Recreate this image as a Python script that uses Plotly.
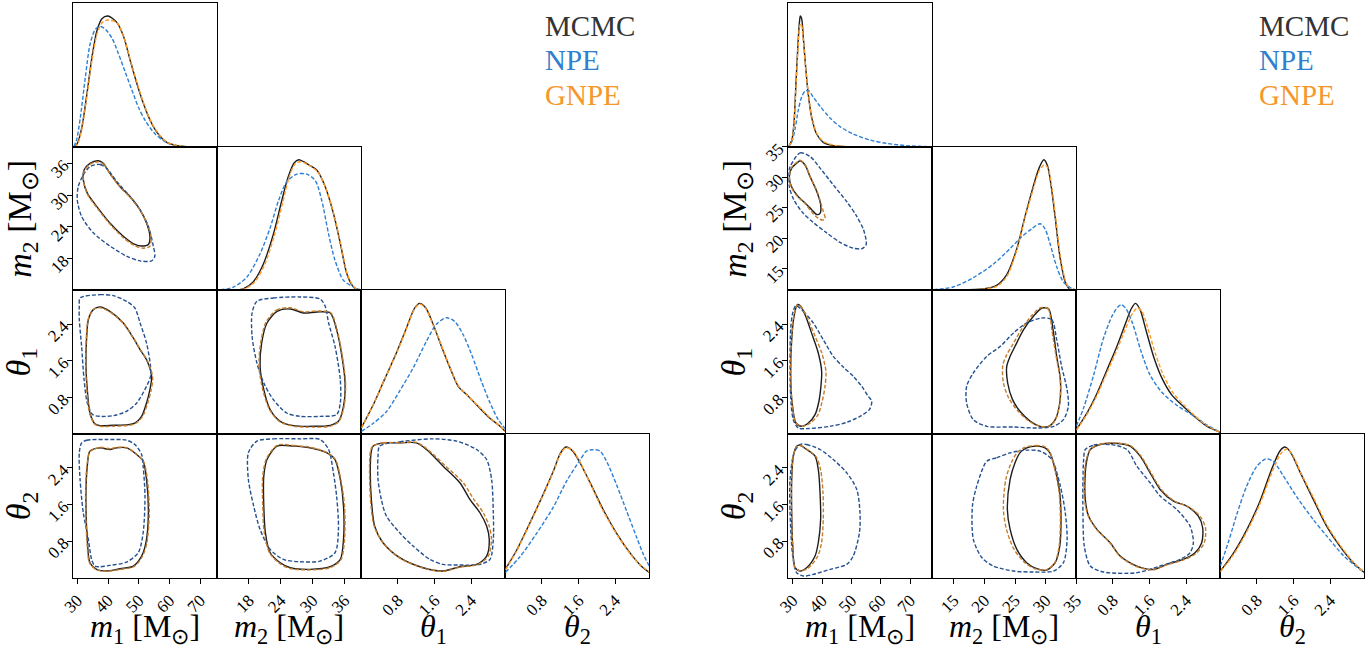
import plotly.graph_objects as go

W, H = 1368, 653

# ---------------- data ----------------
# masses in solar masses, angles in rad; densities scaled so that MCMC peak = 1

L_M1_RANGE = [28.7, 75.5]
L_M2_RANGE = [12.05, 39.15]
R_M1_RANGE = [28.5, 77.5]
R_M2_RANGE = [11.5, 35.0]
TH_RANGE = [0, 3.1416]

L_M1_TICKS = [30, 40, 50, 60, 70]
L_M2_TICKS = [18, 24, 30, 36]
R_M1_TICKS = [30, 40, 50, 60, 70]
R_M2_TICKS = [15, 20, 25, 30, 35]
TH_TICKS = [0.8, 1.6, 2.4]

# ---- left corner: 1D marginals ----
L_M1_MCMC = [(29.0, 0), (29.9, .02), (31.5, .15), (33.1, .40), (34.8, .69), (36.4, .89), (38.0, .98), (40.0, 1.0),
             (42.9, .95), (45.1, .84), (47.2, .66), (49.4, .48), (51.5, .33), (53.7, .20), (55.9, .11), (59.1, .033),
             (62.4, .008), (65.6, 0), (75.5, 0)]
L_M1_NPE = [(28.8, 0), (29.7, .046), (31.0, .225), (32.6, .53), (34.2, .79), (35.9, .90), (37.5, .92), (39.1, .90),
            (41.3, .83), (43.4, .71), (45.6, .57), (47.8, .43), (49.9, .30), (52.1, .20), (54.8, .11), (58.0, .046),
            (61.3, .013), (65.6, 0), (75.5, 0)]
L_M1_GNPE = [(29.2, 0), (30.1, .02), (31.6, .15), (33.2, .40), (34.9, .68), (36.5, .87), (38.1, .95), (40.0, .97),
             (42.9, .95), (45.1, .84), (47.2, .665), (49.4, .49), (51.5, .335), (53.7, .205), (55.9, .115),
             (59.1, .035), (62.4, .01), (65.6, 0), (75.5, 0)]

L_M2_MCMC = [(12.05, 0), (15.1, 0), (17.0, .013), (18.8, .064), (20.7, .20), (22.6, .43), (24.2, .69), (25.4, .87),
             (26.5, .975), (27.4, 1.0), (28.3, .985), (29.3, .96), (30.8, .92), (32.4, .79), (33.9, .59), (35.2, .36),
             (36.4, .13), (37.4, .04), (38.3, .005), (39.15, 0)]
L_M2_NPE = [(12.6, .003), (15.1, .025), (17.6, .10), (20.1, .28), (22.0, .48), (23.6, .69), (25.1, .83), (27.0, .89),
            (28.9, .89), (30.5, .84), (31.7, .69), (33.0, .43), (34.2, .23), (35.8, .076), (37.7, .025), (38.9, .005)]
L_M2_GNPE = [(12.05, 0), (15.3, 0), (17.2, .012), (19.0, .06), (20.9, .19), (22.8, .42), (24.4, .68), (25.6, .87),
             (26.7, .97), (27.6, .985), (28.5, .975), (29.4, .955), (30.9, .91), (32.5, .78), (34.0, .58),
             (35.3, .35), (36.5, .125), (37.5, .04), (38.4, .005), (39.15, 0)]

L_T1_MCMC = [(0, .046), (.255, .22), (.51, .42), (.765, .62), (.984, .81), (1.166, .965), (1.276, 1.0), (1.407, .965),
             (1.567, .84), (1.749, .67), (1.931, .51), (2.114, .365), (2.332, .29), (2.551, .21), (2.806, .12),
             (3.025, .06), (3.14, .02)]
L_T1_NPE = [(0, .02), (.255, .08), (.547, .17), (.838, .33), (1.13, .505), (1.421, .71), (1.64, .84), (1.859, .89),
            (2.041, .86), (2.223, .76), (2.405, .61), (2.624, .40), (2.806, .24), (2.988, .11), (3.14, .04)]
L_T1_GNPE = [(0, .045), (.255, .22), (.51, .42), (.765, .615), (.984, .805), (1.166, .96), (1.276, .995),
             (1.407, .96), (1.567, .835), (1.749, .675), (1.931, .515), (2.114, .37), (2.332, .29), (2.551, .215),
             (2.806, .125), (3.025, .06), (3.14, .02)]

L_T2_MCMC = [(0, .064), (.247, .21), (.538, .42), (.829, .64), (1.047, .815), (1.207, .955), (1.323, 1.0),
             (1.469, .97), (1.629, .88), (1.847, .73), (2.138, .52), (2.429, .34), (2.72, .19), (2.938, .10),
             (3.14, .04)]
L_T2_NPE = [(0, .04), (.32, .16), (.684, .34), (1.047, .54), (1.338, .74), (1.629, .90), (1.774, .97), (1.905, .98),
            (2.065, .97), (2.211, .89), (2.429, .71), (2.647, .51), (2.865, .31), (3.011, .18), (3.14, .09)]
L_T2_GNPE = [(0, .06), (.247, .205), (.538, .415), (.829, .635), (1.047, .81), (1.207, .95), (1.323, .995),
             (1.469, .975), (1.629, .885), (1.847, .725), (2.138, .51), (2.429, .335), (2.72, .185), (2.938, .10),
             (3.14, .045)]

# ---- left corner: contours (closed loops) ----
L_M1M2_MCMC = [(36.8, 36.5), (38.45, 36.0), (40.6, 34.1), (43.9, 31.6), (47.1, 29.75), (50.4, 27.25), (52.5, 24.75),
               (53.6, 22.25), (53.1, 20.7), (50.9, 20.4), (48.7, 20.7), (44.95, 22.25), (40.6, 24.75), (36.3, 27.9),
               (33.25, 30.4), (31.95, 32.9), (32.2, 34.75), (34.1, 36.0)]
L_M1M2_NPE = [(34.1, 35.4), (37.4, 35.8), (39.5, 35.1), (42.8, 32.6), (47.1, 29.75), (50.4, 27.25), (53.1, 24.1),
              (54.7, 20.4), (55.2, 18.5), (54.15, 17.6), (50.4, 17.6), (46.0, 18.5), (40.6, 20.4), (35.2, 22.9),
              (31.4, 26.0), (30.0, 29.1), (30.3, 31.6), (31.95, 33.8)]
L_M1M2_GNPE = [(37.0, 36.3), (38.7, 35.8), (40.8, 33.9), (44.1, 31.4), (47.3, 29.5), (50.6, 27.0), (52.8, 24.5),
               (54.0, 22.0), (53.5, 20.3), (51.2, 20.0), (48.9, 20.4), (45.1, 21.9), (40.7, 24.5), (36.4, 27.6),
               (33.3, 30.2), (32.0, 32.8), (32.3, 34.7), (34.3, 35.9)]

L_M1T1_MCMC = [(37.4, 2.777), (40.6, 2.682), (44.95, 2.427), (48.2, 2.099), (50.4, 1.844), (52.5, 1.625),
               (54.15, 1.261), (53.6, .969), (52.5, .678), (50.9, .386), (48.7, .24), (46.6, .204), (41.7, .19),
               (37.4, .182), (35.7, .226), (34.1, .459), (33.25, .969), (32.8, 1.553), (33.0, 2.063), (33.6, 2.5),
               (35.2, 2.719)]
L_M1T1_NPE = [(30.9, 2.974), (37.4, 3.047), (41.7, 3.025), (46.0, 2.901), (48.7, 2.755), (50.4, 2.427), (52.5, 1.99),
              (53.8, 1.48), (53.8, 1.261), (52.5, 1.042), (49.3, .678), (46.0, .496), (41.7, .401), (37.4, .386),
              (35.0, .423), (33.25, .678), (32.2, 1.188), (31.4, 1.917), (30.65, 2.5), (30.65, 2.792)]
L_M1T1_GNPE = [(37.5, 2.76), (40.8, 2.66), (45.1, 2.41), (48.4, 2.08), (50.7, 1.82), (52.8, 1.60), (54.5, 1.25),
               (54.0, .96), (52.8, .66), (51.1, .37), (48.9, .23), (46.7, .19), (41.8, .17), (37.5, .17), (35.6, .22),
               (34.0, .46), (33.1, .97), (32.7, 1.55), (32.9, 2.07), (33.5, 2.50), (35.2, 2.72)]

L_M1T2_MCMC = [(34.1, 2.767), (37.4, 2.839), (40.6, 2.803), (42.8, 2.839), (46.0, 2.839), (49.3, 2.694),
               (51.4, 2.548), (52.5, 2.148), (53.1, 1.42), (52.3, .764), (50.9, .473), (48.2, .255), (43.9, .197),
               (39.5, .146), (36.3, .182), (34.1, .328), (33.25, .837), (32.8, 1.784), (33.25, 2.439)]
L_M1T2_NPE = [(31.4, 2.948), (33.0, 3.006), (39.5, 3.021), (46.0, 3.006), (48.7, 2.912), (50.9, 2.694),
              (51.4, 2.439), (52.0, 1.784), (51.4, .983), (49.8, .546), (46.0, .342), (40.6, .269), (37.4, .24),
              (35.7, .255), (34.65, .40), (33.6, .837), (31.95, 1.42), (30.9, 2.148), (30.65, 2.73)]
L_M1T2_GNPE = [(34.2, 2.76), (37.5, 2.85), (40.6, 2.82), (42.9, 2.85), (46.2, 2.84), (49.5, 2.69), (51.6, 2.53),
               (52.8, 2.14), (53.4, 1.42), (52.6, .76), (51.1, .46), (48.4, .24), (44.0, .18), (39.6, .14),
               (36.3, .17), (34.0, .32), (33.1, .84), (32.7, 1.78), (33.1, 2.44)]

L_M2T1_MCMC = [(21.4, 2.427), (23.3, 2.682), (25.8, 2.733), (28.3, 2.646), (30.8, 2.668), (33.3, 2.646),
               (34.5, 2.281), (35.5, 1.698), (36.1, 1.115), (35.8, .605), (34.85, .277), (33.3, .19), (30.2, .168),
               (26.4, .182), (23.9, .277), (22.0, .532), (20.8, .969), (20.1, 1.48), (20.4, 1.99)]
L_M2T1_NPE = [(19.5, 2.901), (22.6, 2.974), (27.6, 2.996), (31.4, 2.952), (32.35, 2.792), (33.0, 2.427),
              (34.2, 1.917), (35.2, 1.188), (35.2, .678), (34.5, .423), (31.4, .386), (27.6, .386), (25.1, .459),
              (22.6, .751), (20.8, 1.115), (19.5, 1.553), (18.6, 2.136), (18.6, 2.646)]
L_M2T1_GNPE = [(21.2, 2.44), (23.2, 2.71), (25.8, 2.76), (28.3, 2.67), (30.9, 2.69), (33.4, 2.65), (34.6, 2.27),
               (35.6, 1.69), (36.2, 1.11), (35.9, .60), (34.9, .27), (33.3, .17), (30.2, .15), (26.4, .17),
               (23.8, .27), (21.9, .53), (20.6, .97), (19.9, 1.48), (20.2, 1.99)]

L_M2T2_MCMC = [(23.3, 2.876), (26.4, 2.876), (29.5, 2.839), (32.7, 2.73), (34.2, 2.584), (35.2, 2.148),
               (35.8, 1.565), (35.8, .837), (35.2, .40), (33.3, .24), (29.5, .182), (25.8, .218), (23.9, .328),
               (22.0, .546), (21.1, .983), (20.8, 1.565), (20.8, 2.22), (21.4, 2.584)]
L_M2T2_NPE = [(19.5, 2.985), (22.6, 3.036), (27.6, 3.036), (31.4, 3.021), (33.0, 2.803), (33.9, 2.293),
              (34.5, 1.784), (34.85, 1.056), (34.2, .546), (31.4, .364), (27.6, .349), (24.5, .40), (22.0, .619),
              (20.1, 1.056), (18.9, 1.565), (17.9, 2.148), (17.9, 2.73)]
L_M2T2_GNPE = [(23.4, 2.90), (26.4, 2.89), (29.6, 2.85), (32.8, 2.73), (34.3, 2.58), (35.3, 2.14), (36.0, 1.56),
               (36.0, .83), (35.3, .39), (33.3, .22), (29.5, .17), (25.8, .20), (23.8, .31), (21.9, .54),
               (20.9, .98), (20.6, 1.57), (20.6, 2.22), (21.3, 2.60)]

L_T1T2_MCMC = [(.255, 2.876), (.474, 2.948), (.838, 2.948), (1.203, 2.948), (1.422, 2.803), (1.786, 2.439),
               (2.151, 2.075), (2.369, 1.711), (2.588, 1.42), (2.734, 1.128), (2.792, .837), (2.734, .473),
               (2.515, .291), (2.151, .24), (1.786, .146), (1.349, .218), (.838, .437), (.474, .764), (.292, 1.128),
               (.219, 1.711), (.197, 2.439), (.219, 2.767)]
L_T1T2_NPE = [(.401, 2.876), (.838, 2.97), (1.567, 3.036), (2.078, 2.985), (2.515, 2.803), (2.734, 2.584),
              (2.843, 2.148), (2.88, 1.42), (2.88, .837), (2.807, .40), (2.588, .291), (2.151, .277), (1.786, .291),
              (1.494, .40), (1.13, .692), (.838, .983), (.547, 1.348), (.437, 1.711), (.365, 2.148), (.365, 2.657)]
L_T1T2_GNPE = [(.255, 2.88), (.474, 2.95), (.838, 2.95), (1.203, 2.96), (1.45, 2.80), (1.84, 2.44), (2.22, 2.08),
               (2.45, 1.72), (2.66, 1.42), (2.79, 1.13), (2.84, .84), (2.77, .47), (2.54, .29), (2.15, .23),
               (1.786, .14), (1.349, .21), (.838, .43), (.474, .76), (.28, 1.13), (.20, 1.71), (.18, 2.44),
               (.20, 2.77)]

# ---- right corner: 1D marginals ----
R_M1_MCMC = [(28.5, 0), (29.65, .046), (30.4, .17), (31.1, .48), (31.8, .79), (32.3, .955), (32.6, 1.0), (33.05, .98),
             (33.6, .84), (34.4, .61), (35.3, .40), (36.45, .225), (38.15, .097), (40.4, .033), (43.8, .008),
             (48.4, 0), (77.5, 0)]
R_M1_NPE = [(28.5, 0), (29.65, .033), (30.8, .136), (31.9, .28), (33.05, .38), (34.2, .425), (35.3, .43), (37.0, .38),
            (39.3, .31), (42.7, .22), (46.1, .154), (50.6, .097), (56.3, .051), (62.0, .025), (68.8, .008),
            (76.7, 0)]
R_M1_GNPE = [(28.5, 0), (29.65, .04), (30.4, .16), (31.1, .45), (31.8, .75), (32.3, .915), (32.7, .94), (33.1, .925),
             (33.6, .82), (34.4, .61), (35.3, .41), (36.45, .235), (38.15, .105), (40.4, .04), (43.8, .012),
             (48.4, 0), (77.5, 0)]

R_M2_MCMC = [(11.7, 0), (14.9, .003), (19.8, .01), (22.0, .038), (23.65, .12), (25.3, .32), (26.6, .56), (28.0, .80),
             (28.95, .94), (29.7, 1.0), (30.3, .955), (30.8, .83), (31.55, .56), (32.35, .25), (33.2, .064),
             (34.0, .005), (35.0, 0)]
R_M2_NPE = [(11.7, .005), (14.9, .025), (18.2, .097), (21.45, .20), (24.2, .32), (26.1, .41), (27.7, .47), (29.1, .51),
            (29.9, .47), (30.7, .36), (31.8, .18), (32.9, .064), (34.3, .013), (35.0, .003)]
R_M2_GNPE = [(11.7, 0), (14.9, .003), (19.8, .008), (22.0, .03), (23.65, .105), (25.3, .31), (26.6, .55), (28.0, .78),
             (29.0, .92), (29.8, .96), (30.4, .935), (30.9, .82), (31.6, .57), (32.4, .26), (33.25, .07),
             (34.0, .006), (35.0, 0)]

R_T1_MCMC = [(0, .033), (.232, .16), (.45, .31), (.668, .49), (.885, .67), (1.067, .84), (1.197, .957), (1.292, 1.0),
             (1.393, .95), (1.524, .79), (1.698, .58), (1.865, .43), (2.082, .30), (2.336, .21), (2.59, .13),
             (2.844, .06), (3.14, .013)]
R_T1_NPE = [(0, .06), (.16, .20), (.377, .45), (.595, .735), (.776, .90), (.90, .97), (.98, .99), (1.088, .957),
            (1.234, .84), (1.415, .63), (1.611, .45), (1.865, .32), (2.191, .22), (2.554, .14), (2.844, .07),
            (3.14, .015)]
R_T1_GNPE = [(0, .03), (.232, .15), (.45, .295), (.668, .47), (.885, .645), (1.067, .80), (1.22, .92), (1.33, .965),
             (1.43, .94), (1.56, .81), (1.73, .61), (1.90, .45), (2.10, .32), (2.35, .22), (2.60, .135),
             (2.844, .065), (3.14, .013)]

R_T2_MCMC = [(0, .05), (.284, .186), (.574, .364), (.865, .585), (1.12, .83), (1.301, .97), (1.41, 1.0), (1.534, .96),
             (1.738, .81), (2.028, .60), (2.319, .395), (2.61, .24), (2.901, .115), (3.14, .04)]
R_T2_NPE = [(0, .09), (.174, .27), (.356, .48), (.574, .70), (.792, .85), (.996, .91), (1.156, .89), (1.374, .78),
            (1.665, .62), (2.028, .445), (2.319, .32), (2.683, .17), (2.973, .084), (3.14, .046)]
R_T2_GNPE = [(0, .045), (.284, .175), (.574, .35), (.865, .565), (1.12, .80), (1.32, .95), (1.45, .985), (1.56, .95),
             (1.76, .80), (2.05, .60), (2.33, .40), (2.62, .245), (2.90, .12), (3.14, .04)]

# ---- right corner: contours ----
R_M1M2_MCMC = [(31.35, 32.3), (32.5, 32.7), (34.2, 32.0), (35.9, 30.1), (38.15, 27.7), (39.5, 25.5), (39.3, 24.1),
               (38.15, 23.9), (36.45, 24.7), (34.2, 25.8), (31.9, 26.8), (29.65, 28.4), (28.85, 30.1),
               (29.65, 31.5)]
R_M1M2_NPE = [(29.1, 31.7), (32.5, 34.0), (35.9, 33.4), (39.3, 31.5), (43.8, 28.75), (48.4, 26.0), (51.8, 23.6),
              (54.1, 21.4), (55.0, 19.0), (53.5, 18.3), (50.6, 18.4), (46.1, 19.35), (41.55, 20.9), (37.0, 22.6),
              (33.6, 24.1), (30.4, 26.3), (28.85, 28.4), (28.5, 30.6)]
R_M1M2_GNPE = [(31.3, 32.4), (32.5, 32.8), (34.3, 32.0), (36.0, 30.0), (38.4, 27.6), (39.8, 25.4), (40.4, 24.4),
               (41.0, 23.3), (40.2, 23.0), (38.6, 23.3), (37.0, 24.0), (34.2, 25.7), (31.9, 26.7), (29.6, 28.3),
               (28.8, 30.1), (29.6, 31.6)]

R_M1T1_MCMC = [(31.6, 2.828), (32.5, 2.806), (34.2, 2.61), (36.8, 2.136), (38.7, 1.771), (39.85, 1.37), (39.6, 1.042),
               (38.8, .678), (37.6, .423), (35.3, .24), (33.05, .168), (31.1, .24), (29.8, .678), (29.3, 1.334),
               (29.65, 2.063), (30.45, 2.573)]
R_M1T1_NPE = [(31.1, 2.806), (33.6, 2.682), (37.0, 2.427), (40.4, 2.063), (43.8, 1.698), (47.2, 1.465),
              (50.6, 1.261), (53.5, 1.042), (55.7, .824), (56.9, .714), (56.1, .532), (52.9, .386), (48.4, .255),
              (42.7, .168), (34.75, .117), (31.9, .131), (30.2, .313), (29.3, .824), (29.1, 1.553), (29.3, 2.282),
              (30.0, 2.646)]
R_M1T1_GNPE = [(31.6, 2.83), (32.6, 2.80), (34.5, 2.60), (37.6, 2.14), (39.9, 1.77), (41.3, 1.37), (41.0, 1.04),
               (39.9, .68), (38.6, .42), (36.0, .24), (33.3, .17), (31.2, .24), (29.8, .68), (29.3, 1.33),
               (29.6, 2.06), (30.4, 2.57)]

R_M1T2_MCMC = [(31.35, 2.876), (32.5, 2.897), (34.75, 2.803), (37.6, 2.657), (38.7, 2.366), (39.3, 1.856),
               (39.5, 1.274), (38.7, .764), (37.6, .473), (34.75, .218), (32.5, .146), (30.8, .218), (30.0, .692),
               (29.65, 1.42), (29.65, 2.148), (30.2, 2.657)]
R_M1T2_NPE = [(32.5, 2.912), (34.75, 2.912), (39.3, 2.803), (43.8, 2.584), (48.4, 2.293), (51.8, 1.929),
              (52.9, 1.42), (52.7, .983), (50.6, .473), (48.4, .291), (42.7, .182), (37.0, .073), (33.6, .036),
              (31.35, .109), (30.0, .473), (29.1, 1.42), (29.1, 2.148), (30.45, 2.73)]
R_M1T2_GNPE = [(31.4, 2.88), (32.6, 2.89), (35.0, 2.80), (38.0, 2.64), (39.5, 2.36), (40.3, 1.86), (40.4, 1.27),
               (39.8, .76), (38.5, .47), (35.3, .21), (32.6, .15), (30.8, .22), (30.0, .69), (29.6, 1.42),
               (29.6, 2.15), (30.2, 2.66)]

R_M2T1_MCMC = [(29.4, 2.755), (30.5, 2.733), (31.2, 2.281), (31.8, 1.698), (32.4, 1.188), (32.3, .678),
               (31.55, .313), (30.5, .168), (29.1, .168), (27.5, .277), (25.8, .496), (24.6, .751), (23.8, 1.115),
               (23.65, 1.48), (24.2, 1.698), (25.0, 1.917), (26.4, 2.281), (28.0, 2.573)]
R_M2T1_NPE = [(29.4, 2.537), (31.0, 2.50), (31.8, 2.063), (32.6, 1.48), (33.5, .969), (33.7, .605), (32.9, .313),
              (31.3, .168), (28.55, .131), (24.75, .153), (20.4, .168), (18.2, .313), (17.1, .678), (17.1, 1.042),
              (18.2, 1.334), (20.4, 1.698), (22.6, 1.917), (24.75, 2.209), (26.9, 2.427)]
R_M2T1_GNPE = [(29.2, 2.76), (30.4, 2.74), (31.0, 2.28), (31.7, 1.70), (32.4, 1.19), (32.3, .68), (31.6, .31),
               (30.5, .17), (29.0, .17), (27.3, .28), (25.5, .50), (24.0, .78), (23.1, 1.12), (23.0, 1.50),
               (23.6, 1.72), (24.6, 1.95), (26.1, 2.30), (27.8, 2.60)]

R_M2T2_MCMC = [(26.9, 2.839), (28.55, 2.876), (29.9, 2.839), (30.7, 2.73), (31.55, 2.366), (32.3, 1.856),
               (32.5, 1.274), (32.3, .692), (31.55, .328), (30.2, .167), (28.55, .197), (26.9, .328), (25.3, .619),
               (24.2, 1.056), (23.75, 1.492), (24.2, 2.148), (25.0, 2.512), (25.8, 2.73)]
R_M2T2_NPE = [(20.4, 2.548), (22.0, 2.621), (24.2, 2.73), (26.9, 2.788), (29.1, 2.766), (31.0, 2.584), (32.4, 2.002),
              (33.2, 1.42), (33.5, .837), (32.9, .328), (31.3, .146), (28.0, .124), (24.75, .146), (21.45, .255),
              (19.6, .437), (18.2, .837), (18.05, 1.565), (18.75, 2.002)]
R_M2T2_GNPE = [(26.6, 2.85), (28.4, 2.89), (29.9, 2.86), (30.7, 2.74), (31.5, 2.37), (32.2, 1.86), (32.4, 1.27),
               (32.2, .69), (31.5, .33), (30.1, .17), (28.4, .19), (26.6, .33), (24.8, .63), (23.6, 1.06),
               (23.1, 1.50), (23.5, 2.15), (24.4, 2.52), (25.4, 2.74)]

R_T1T2_MCMC = [(.305, 2.803), (.522, 2.912), (.922, 2.934), (1.175, 2.876), (1.393, 2.657), (1.611, 2.293),
               (1.829, 1.929), (2.119, 1.674), (2.409, 1.565), (2.663, 1.347), (2.757, 1.092), (2.736, .764),
               (2.59, .546), (2.336, .40), (1.974, .291), (1.683, .182), (1.321, .255), (.958, .473), (.74, .764),
               (.45, 1.056), (.268, 1.347), (.196, 1.711), (.196, 2.293), (.232, 2.584)]
R_T1T2_NPE = [(.196, 2.803), (.377, 2.897), (.74, 2.912), (1.103, 2.803), (1.321, 2.439), (1.611, 2.075),
              (1.829, 1.784), (2.191, 1.492), (2.482, 1.128), (2.554, .764), (2.482, .546), (2.264, .40),
              (1.829, .255), (1.321, .109), (.595, .124), (.305, .255), (.174, .692), (.145, 1.42), (.145, 2.148),
              (.16, 2.584)]
R_T1T2_GNPE = [(.31, 2.81), (.53, 2.92), (.93, 2.94), (1.19, 2.88), (1.41, 2.66), (1.63, 2.29), (1.86, 1.92),
               (2.16, 1.66), (2.45, 1.55), (2.71, 1.33), (2.82, 1.08), (2.79, .76), (2.61, .53), (2.34, .39),
               (1.97, .28), (1.67, .17), (1.30, .25), (.95, .47), (.73, .77), (.44, 1.06), (.26, 1.35),
               (.18, 1.71), (.18, 2.29), (.22, 2.59)]

LEGEND_NAMES = ["MCMC", "NPE", "GNPE"]

# ---------------- styling ----------------
SERIF = "Liberation Serif"
LINE_COL = ["#1c1c1c", "#2d7fd3", "#ff9a26"]     # 1D curves
CONT_COL = ["#1c1c1c", "#24508f", "#c47c2c"]     # 2D contours
TXT_COL = ["#333333", "#2f80cf", "#f5982c"]
DASH = ["solid", "4px,2px", "4px,2px"]

ROWS = [3, 146.7, 290.3, 434, 577.7]
CORNERS = [
    dict(cols=[73.3, 217.3, 361.3, 505.3, 649.3],
         params=[(L_M1_RANGE, L_M1_TICKS), (L_M2_RANGE, L_M2_TICKS), (TH_RANGE, TH_TICKS), (TH_RANGE, TH_TICKS)],
         diag=[(L_M1_MCMC, L_M1_NPE, L_M1_GNPE), (L_M2_MCMC, L_M2_NPE, L_M2_GNPE),
               (L_T1_MCMC, L_T1_NPE, L_T1_GNPE), (L_T2_MCMC, L_T2_NPE, L_T2_GNPE)],
         pairs={(1, 0): (L_M1M2_MCMC, L_M1M2_NPE, L_M1M2_GNPE),
                (2, 0): (L_M1T1_MCMC, L_M1T1_NPE, L_M1T1_GNPE),
                (3, 0): (L_M1T2_MCMC, L_M1T2_NPE, L_M1T2_GNPE),
                (2, 1): (L_M2T1_MCMC, L_M2T1_NPE, L_M2T1_GNPE),
                (3, 1): (L_M2T2_MCMC, L_M2T2_NPE, L_M2T2_GNPE),
                (3, 2): (L_T1T2_MCMC, L_T1T2_NPE, L_T1T2_GNPE)},
         legend_x=543),
    dict(cols=[788.3, 932.3, 1076.3, 1220.3, 1364.3],
         params=[(R_M1_RANGE, R_M1_TICKS), (R_M2_RANGE, R_M2_TICKS), (TH_RANGE, TH_TICKS), (TH_RANGE, TH_TICKS)],
         diag=[(R_M1_MCMC, R_M1_NPE, R_M1_GNPE), (R_M2_MCMC, R_M2_NPE, R_M2_GNPE),
               (R_T1_MCMC, R_T1_NPE, R_T1_GNPE), (R_T2_MCMC, R_T2_NPE, R_T2_GNPE)],
         pairs={(1, 0): (R_M1M2_MCMC, R_M1M2_NPE, R_M1M2_GNPE),
                (2, 0): (R_M1T1_MCMC, R_M1T1_NPE, R_M1T1_GNPE),
                (3, 0): (R_M1T2_MCMC, R_M1T2_NPE, R_M1T2_GNPE),
                (2, 1): (R_M2T1_MCMC, R_M2T1_NPE, R_M2T1_GNPE),
                (3, 1): (R_M2T2_MCMC, R_M2T2_NPE, R_M2T2_GNPE),
                (3, 2): (R_T1T2_MCMC, R_T1T2_NPE, R_T1T2_GNPE)},
         legend_x=1257),
]

X_LABELS = ["<i>m</i><sub>1</sub> [M<sub>⊙</sub>]", "<i>m</i><sub>2</sub> [M<sub>⊙</sub>]",
            "<i>θ</i><sub>1</sub>", "<i>θ</i><sub>2</sub>"]
Y_LABELS = X_LABELS

fig = go.Figure()
layout = {}
annotations = []
n = 0
for corner in CORNERS:
    cols = corner["cols"]
    for i in range(4):
        for j in range(i + 1):
            n += 1
            xname = "x" if n == 1 else f"x{n}"
            yname = "y" if n == 1 else f"y{n}"
            xr, xt = corner["params"][j]
            bottom = i == 3
            layout["xaxis" if n == 1 else f"xaxis{n}"] = dict(
                domain=[cols[j] / W, cols[j + 1] / W], anchor=yname, range=xr,
                tickvals=xt, showticklabels=bottom, ticks="outside" if bottom else "",
                ticklen=5, tickwidth=1, tickcolor="black", tickangle=-45,
                tickfont=dict(family=SERIF, size=17, color="black"),
                showline=True, mirror=True, linecolor="black", linewidth=1.2,
                showgrid=False, zeroline=False)
            if i == j:
                yax = dict(range=[0, 1.1], showticklabels=False, ticks="")
            else:
                yr, yt = corner["params"][i]
                yax = dict(range=yr, tickvals=yt, showticklabels=(j == 0),
                           ticks="outside" if j == 0 else "")
            yax.update(domain=[1 - ROWS[i + 1] / H, 1 - ROWS[i] / H], anchor=xname,
                       ticklen=5, tickwidth=1, tickcolor="black", tickangle=-45,
                       tickfont=dict(family=SERIF, size=17, color="black"),
                       showline=True, mirror=True, linecolor="black", linewidth=1.2,
                       showgrid=False, zeroline=False)
            layout["yaxis" if n == 1 else f"yaxis{n}"] = yax

            if i == j:
                curves = corner["diag"][i]
                colors = LINE_COL
            else:
                curves = corner["pairs"][(i, j)]
                colors = CONT_COL
            for k, pts in enumerate(curves):
                if i != j:
                    pts = list(pts) + [pts[0]]
                fig.add_trace(go.Scatter(
                    x=[p[0] for p in pts], y=[p[1] for p in pts], mode="lines",
                    line=dict(color=colors[k], width=1.4, dash=DASH[k], shape="spline", smoothing=0.8),
                    xaxis=xname, yaxis=yname, showlegend=False, hoverinfo="skip"))

    # axis titles
    for j in range(4):
        annotations.append(dict(text=X_LABELS[j], x=(cols[j] + cols[j + 1]) / 2 / W, y=1 - 628 / H,
                                xref="paper", yref="paper", xanchor="center", yanchor="middle",
                                showarrow=False, font=dict(family=SERIF, size=32, color="black")))
    for i in range(1, 4):
        annotations.append(dict(text=Y_LABELS[i], x=(cols[0] - 52) / W, y=1 - (ROWS[i] + ROWS[i + 1]) / 2 / H,
                                xref="paper", yref="paper", xanchor="center", yanchor="middle",
                                showarrow=False, textangle=-90,
                                font=dict(family=SERIF, size=34, color="black")))
    # legend text
    for k, name in enumerate(LEGEND_NAMES):
        annotations.append(dict(text=name, x=corner["legend_x"] / W, y=1 - (26 + 34.5 * k) / H,
                                xref="paper", yref="paper", xanchor="left", yanchor="middle",
                                showarrow=False, font=dict(family=SERIF, size=29, color=TXT_COL[k])))

fig.update_layout(**layout)
fig.update_layout(width=W, height=H, margin=dict(l=0, r=0, t=0, b=0, autoexpand=False),
                  paper_bgcolor="white", plot_bgcolor="white", template="none",
                  showlegend=False, annotations=annotations)
fig.write_html("out.html", config={"displayModeBar": False},
               post_script="document.body.style.margin='0';")
